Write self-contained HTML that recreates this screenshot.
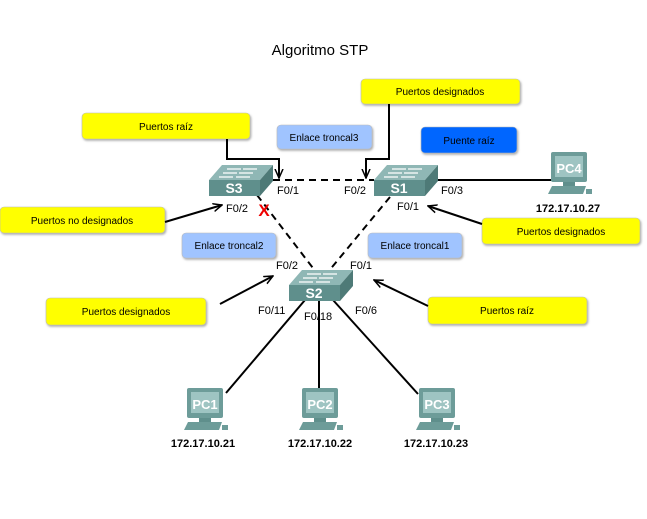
<!DOCTYPE html>
<html><head><meta charset="utf-8"><style>
html,body{margin:0;padding:0;background:#fff;width:647px;height:519px;overflow:hidden}
svg{display:block;font-family:"Liberation Sans",Arial,sans-serif}
</style></head><body>
<svg width="647" height="519" viewBox="0 0 647 519" xmlns="http://www.w3.org/2000/svg">
<defs>
<marker id="ar" markerWidth="10" markerHeight="10" refX="9" refY="5" orient="auto" markerUnits="userSpaceOnUse">
<path d="M0,1 L9,5 L0,9" fill="none" stroke="#000" stroke-width="1.5"/></marker>
<filter id="sh" x="-10%" y="-20%" width="120%" height="150%"><feDropShadow dx="1" dy="1.5" stdDeviation="1" flood-color="#888" flood-opacity="0.7"/></filter>
<g id="sw">
<polygon points="0,15 13,0 64,0 51,15" fill="#8fb7b5"/>
<rect x="0" y="15" width="51" height="16" fill="#5f8f8c"/>
<polygon points="51,15 64,0 64,16 51,31" fill="#4e7a77"/>
<path d="M18,4 h14 M34,4 h14 M14,8 h14 M30,8 h14 M10,12 h14 M27,12 h14" stroke="#fff" stroke-width="1.3"/>
</g>
<g id="pc">
<rect x="3" y="0" width="36" height="30" rx="2" fill="#6d9c99"/>
<rect x="7" y="4" width="28" height="21" fill="#9ec4c2"/>
<rect x="15" y="30" width="12" height="4" fill="#5f8f8c"/>
<polygon points="4,34 38,34 35,42 0,42" fill="#6d9c99"/>
<rect x="38" y="37" width="6" height="5" fill="#6d9c99"/>
</g>
</defs>

<text x="320" y="55" font-size="15" text-anchor="middle">Algoritmo STP</text>

<!-- links -->
<line x1="273" y1="180" x2="374" y2="180" stroke="#000" stroke-width="2" stroke-dasharray="7,5"/>
<line x1="438" y1="180" x2="552" y2="180" stroke="#000" stroke-width="2"/>
<line x1="257" y1="195" x2="316" y2="272" stroke="#000" stroke-width="2" stroke-dasharray="7,5"/>
<line x1="390" y1="197" x2="328" y2="272" stroke="#000" stroke-width="2" stroke-dasharray="7,5"/>
<line x1="305" y1="300" x2="226" y2="393" stroke="#000" stroke-width="2"/>
<line x1="319" y1="300" x2="319" y2="390" stroke="#000" stroke-width="2"/>
<line x1="333" y1="300" x2="418" y2="394" stroke="#000" stroke-width="2"/>

<!-- switches -->
<g transform="translate(209,165)"><use href="#sw"/><text x="25" y="28" font-size="14" font-weight="bold" fill="#fff" text-anchor="middle">S3</text></g>
<g transform="translate(374,165)"><use href="#sw"/><text x="25" y="28" font-size="14" font-weight="bold" fill="#fff" text-anchor="middle">S1</text></g>
<g transform="translate(289,270)"><use href="#sw"/><text x="25" y="28" font-size="14" font-weight="bold" fill="#fff" text-anchor="middle">S2</text></g>

<!-- PCs -->
<g transform="translate(184,388)"><use href="#pc"/><text x="21" y="21" font-size="13" font-weight="bold" fill="#fff" text-anchor="middle">PC1</text></g>
<g transform="translate(299,388)"><use href="#pc"/><text x="21" y="21" font-size="13" font-weight="bold" fill="#fff" text-anchor="middle">PC2</text></g>
<g transform="translate(416,388)"><use href="#pc"/><text x="21" y="21" font-size="13" font-weight="bold" fill="#fff" text-anchor="middle">PC3</text></g>
<g transform="translate(548,152)"><use href="#pc"/><text x="21" y="21" font-size="13" font-weight="bold" fill="#fff" text-anchor="middle">PC4</text></g>

<g font-size="11" font-weight="bold" text-anchor="middle">
<text x="203" y="447">172.17.10.21</text>
<text x="320" y="447">172.17.10.22</text>
<text x="436" y="447">172.17.10.23</text>
<text x="568" y="212">172.17.10.27</text>
</g>

<!-- port labels -->
<g font-size="11">
<text x="277" y="194">F0/1</text>
<text x="344" y="194">F0/2</text>
<text x="441" y="194">F0/3</text>
<text x="226" y="212">F0/2</text>
<text x="397" y="210">F0/1</text>
<text x="276" y="269">F0/2</text>
<text x="350" y="269">F0/1</text>
<text x="258" y="314">F0/11</text>
<text x="304" y="320">F0/18</text>
<text x="355" y="314">F0/6</text>
</g>
<text x="264" y="216" font-size="17" font-weight="bold" fill="#e00" text-anchor="middle">X</text>

<!-- boxes -->
<g filter="url(#sh)" stroke="#bbb" stroke-width="0.6">
<rect x="361" y="79" width="159" height="25" rx="4" fill="#ffff00"/>
<rect x="82" y="113" width="168" height="26" rx="4" fill="#ffff00"/>
<rect x="277" y="125" width="95" height="24" rx="4" fill="#a0c4ff"/>
<rect x="421" y="127" width="96" height="26" rx="4" fill="#0066ff"/>
<rect x="0" y="207" width="165" height="26" rx="4" fill="#ffff00"/>
<rect x="482" y="218" width="158" height="26" rx="4" fill="#ffff00"/>
<rect x="182" y="233" width="94" height="25" rx="4" fill="#a0c4ff"/>
<rect x="368" y="233" width="94" height="25" rx="4" fill="#a0c4ff"/>
<rect x="46" y="298" width="160" height="27" rx="4" fill="#ffff00"/>
<rect x="428" y="297" width="159" height="27" rx="4" fill="#ffff00"/>
</g>
<g font-size="10" text-anchor="middle">
<text x="440" y="95">Puertos designados</text>
<text x="166" y="130">Puertos raíz</text>
<text x="324" y="141">Enlace troncal3</text>
<text x="469" y="144">Puente raíz</text>
<text x="82" y="224">Puertos no designados</text>
<text x="561" y="235">Puertos designados</text>
<text x="229" y="249">Enlace troncal2</text>
<text x="415" y="249">Enlace troncal1</text>
<text x="126" y="315">Puertos designados</text>
<text x="507" y="314">Puertos raíz</text>
</g>

<!-- callout arrows -->
<g stroke="#000" stroke-width="2" fill="none" marker-end="url(#ar)">
<polyline points="227,139 227,159 279,159 279,178"/>
<polyline points="389,104 389,159 366,159 366,178"/>
<line x1="165" y1="222" x2="222" y2="205"/>
<line x1="482" y1="224" x2="428" y2="206"/>
<line x1="220" y1="304" x2="273" y2="276"/>
<line x1="428" y1="306" x2="374" y2="280"/>
</g>
</svg>
</body></html>
